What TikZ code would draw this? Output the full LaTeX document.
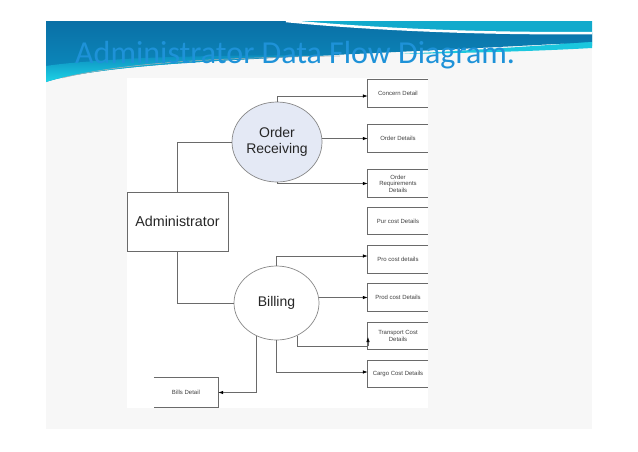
\documentclass[tikz,border=0pt]{standalone}
\usepackage{fontspec}
\setmainfont{Liberation Sans}
\newfontfamily\titlefont{Carlito}
\usetikzlibrary{shapes.geometric,arrows.meta}
\definecolor{lineGray}{HTML}{6A6A6A}
\definecolor{orFill}{HTML}{E4E9F5}
\definecolor{titleBlue}{HTML}{1E92D8}
\definecolor{bannerDark}{HTML}{0A70A6}
\definecolor{bannerMid}{HTML}{0C8EC0}
\definecolor{bannerLight}{HTML}{12AACC}
\definecolor{bannerCyan}{HTML}{1ED4E6}
\begin{document}
\begin{tikzpicture}[x=1pt,y=-1pt,>={Latex[length=5pt,width=3.5pt,black]},
    flow/.style={draw=lineGray,line width=0.7pt},
    store/.style={minimum width=60pt,minimum height=27pt,inner sep=0pt,align=center,
        font=\fontsize{6}{6.6}\selectfont,text=black!75},
    process/.style={ellipse,draw=lineGray!80,line width=0.7pt,inner sep=0pt,align=center,
        font=\fontsize{14}{15.5}\selectfont,text=black!85}]
    \useasboundingbox (0,0) rectangle (638,451);
    % Slide
    \fill[black!3] (46,21) rectangle (592,429);
    \fill[bannerLight] (286,21) -- (592,21) -- (592,46) -- cycle;
    \shade[top color=bannerDark,bottom color=bannerMid]
        (46,21) -- (286,21) .. controls (380,30) and (490,34) .. (592,33) -- (592,42)
        .. controls (450,50) and (300,56) .. (200,62) .. controls (120,67) and (70,74) .. (46,82) -- cycle;
    \shade[top color=bannerMid,bottom color=bannerCyan]
        (46,82) .. controls (70,74) and (120,67) .. (200,62) .. controls (260,58) and (300,56) .. (340,55)
        .. controls (260,55) and (160,56) .. (110,60) .. controls (80,62) and (58,64) .. (46,66) -- cycle;
    \fill[bannerCyan!70!bannerLight]
        (592,42) .. controls (520,47) and (460,51) .. (400,54) .. controls (470,53) and (540,51) .. (592,48) -- cycle;
    \draw[white,line width=2.5pt] (286,21) .. controls (380,30) and (490,34) .. (592,33);
    \draw[black!30,line width=0.5pt] (62,78) .. controls (120,64) and (200,58) .. (340,56);
    \fill[white] (127,78) rectangle (428,408);
    \node[anchor=base west,inner sep=0pt,text=titleBlue,font=\titlefont\fontsize{32}{32}\selectfont]
        (title) at (75,63) {Administrator Data Flow Diagram.};
    % Entity and processes
    \node[draw=lineGray,line width=0.7pt,fill=white,minimum width=101pt,minimum height=59pt,inner sep=0pt,
        font=\fontsize{14.3}{16}\selectfont,text=black!85] (adm) at (177.5,221.5) {Administrator};
    \node[process,fill=orFill,minimum width=90pt,minimum height=80pt] (ord) at (277,142) {Order\\Receiving};
    \node[process,fill=white,minimum width=85pt,minimum height=74pt] (bil) at (276.5,303) {Billing};
    % Data stores
    \node[store] (cd) at (398,93.5) {Concern Detail};
    \node[store] (od) at (398,138.5) {Order Details};
    \node[store] (orq) at (398,183.5) {Order\\Requirements\\Details};
    \node[store] (pur) at (398,221) {Pur cost Details};
    \node[store] (pro) at (398,259.5) {Pro cost details};
    \node[store] (prod) at (398,297.5) {Prod cost Details};
    \node[store] (trn) at (398,336) {Transport Cost\\Details};
    \node[store] (cgo) at (398,374) {Cargo Cost Details};
    \node[store,minimum width=64pt,minimum height=29pt] (bd) at (186,392.5) {Bills Detail};
    \foreach \s in {cd,od,orq,pur,pro,prod,trn,cgo}{
        \draw[flow] (\s.north east) -- (\s.north west) -- (\s.south west) -- (\s.south east);
    }
    \draw[flow] (bd.north west) -- (bd.north east) -- (bd.south east) -- (bd.south west);
    % Flows
    \draw[flow] (adm.north) |- (ord.west);
    \draw[flow] (adm.south) |- (bil.west);
    \draw[flow,->] (ord.north) |- ([yshift=-2.5pt]cd.west);
    \draw[flow,->] (od.west -| ord.east) -- (od.west);
    \draw[flow,->] (ord.south) |- (orq.west);
    \draw[flow,->] (bil.north) |- ([yshift=3.5pt]pro.west);
    \draw[flow,->] (prod.west -| bil.east) -- (prod.west);
    \coordinate (tc) at (368,346);
    \draw[flow] (bil.-58) |- (tc);
    \draw[flow,->] (tc) -- ++(0,-9);
    \draw[flow,->] (bil.south) |- ([yshift=2pt]cgo.west);
    \draw[flow,->] (bil.-122) |- (bd.east);
\end{tikzpicture}
\end{document}
